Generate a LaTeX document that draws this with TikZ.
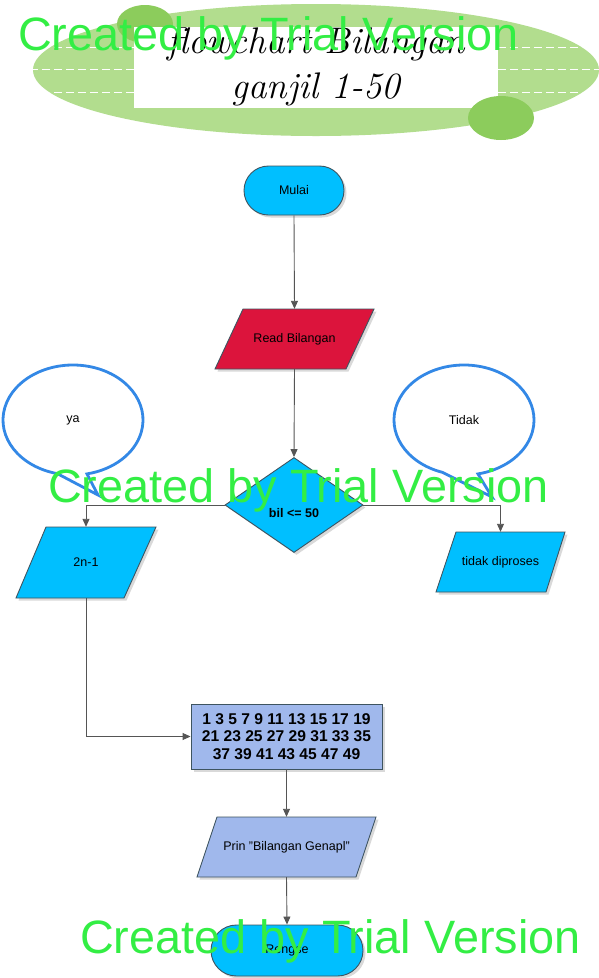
\documentclass[tikz,border=0pt]{standalone}
\usepackage{fontspec}
\setmainfont{Liberation Sans}
\usetikzlibrary{arrows.meta,shapes.geometric,shadows,calc}
\definecolor{sky}{RGB}{0,191,255}
\definecolor{crim}{RGB}{220,20,60}
\definecolor{lblue}{RGB}{160,184,236}
\definecolor{bordergray}{RGB}{62,84,96}
\definecolor{linegray}{RGB}{85,85,85}
\definecolor{bubblue}{RGB}{51,136,230}
\definecolor{lgreen}{RGB}{178,221,142}
\definecolor{dgreen}{RGB}{140,204,92}
\definecolor{wmgreen}{RGB}{51,238,68}
\begin{document}
\begin{tikzpicture}[x=1pt,y=-1pt,
  conn/.style={draw=linegray, line width=0.9pt},
  arr/.style={conn, -{Triangle[length=8pt,width=7pt]}},
  lbl/.style={font=\fontsize{12.5}{15}\selectfont, text=black, inner sep=0pt},
  shapeline/.style={draw=bordergray, line width=0.9pt},
  shadowed/.style={drop shadow={shadow xshift=2.5pt, shadow yshift=-2.5pt, fill=black, opacity=0.15}},
  stadium/.style={lbl, shapeline, shadowed, fill=sky, rectangle},
  bubble/.style={draw=bubblue, line width=2.8pt, fill=white, line join=miter},
  wm/.style={font=\fontsize{46.8}{50}\selectfont, text=wmgreen, anchor=base west, inner sep=0pt},
  titletext/.style={font=\fontfamily{lmr}\itshape\fontsize{37}{40}\selectfont, text=black, inner sep=0pt, anchor=base}
]
\useasboundingbox (0,0) rectangle (599,978);
\fill[white] (0,0) rectangle (599,978);

% ---- title banner ----
\fill[lgreen] (316,70) ellipse [x radius=283, y radius=66];
\begin{scope}
  \clip (316,70) ellipse [x radius=283, y radius=66];
  \foreach \yy in {47,69,92}
    \draw[white, line width=0.9pt, dash pattern=on 8pt off 4pt] (30,\yy) -- (600,\yy);
\end{scope}
\fill[dgreen] (145,24) ellipse [x radius=28, y radius=19];
\fill[white] (134,27) rectangle (498,108);
\fill[dgreen] (501,118) ellipse [x radius=33, y radius=22];
\node[titletext] (t1) at (316,53) {flowchart Bilangan};
\node[titletext] (t2) at (316,98) {ganjil 1-50};

% ---- speech bubbles ----
\draw[bubble] (73,420) ++(103:70 and 55) arc[start angle=103, end angle=438.5, x radius=70, y radius=55] -- (98,495) -- cycle;
\node[lbl] (ya) at (73,420) {ya};
\draw[bubble] (464,420) ++(108:70 and 55) arc[start angle=108, end angle=438.5, x radius=70, y radius=55] -- (492,497) -- cycle;
\node[lbl] (tidak) at (464,420) {Tidak};

% ---- flow shapes ----
\node[stadium, minimum width=100pt, minimum height=49pt, rounded corners=24.5pt] (mulai) at (294,190.5) {Mulai};

\draw[shapeline, shadowed, fill=crim] (243,309) -- (374,309) -- (346,369) -- (215,369) -- cycle;
\node[lbl, minimum width=159pt, minimum height=60pt] (read) at (294.5,339) {Read Bilangan};

\node[diamond, shapeline, shadowed, fill=sky, minimum width=138pt, minimum height=95pt, inner sep=0pt,
      text height=25pt, text depth=0pt,
      font=\bfseries\fontsize{12.5}{15}\selectfont] (dec) at (294,505) {bil <= 50};

\draw[shapeline, shadowed, fill=sky] (46,527) -- (156,527) -- (124,598) -- (16,598) -- cycle;
\node[lbl, minimum width=140pt, minimum height=71pt] (odd) at (86,562.5) {2n-1};

\draw[shapeline, shadowed, fill=sky] (456,532) -- (565,532) -- (546,592) -- (436,592) -- cycle;
\node[lbl, minimum width=129pt, minimum height=60pt] (skip) at (500.5,562) {tidak diproses};

\node[rectangle, shapeline, shadowed, fill=lblue, minimum width=191pt, minimum height=65pt, inner sep=0pt,
      align=center, font=\bfseries\fontsize{15.6}{17.5}\selectfont] (list) at (286.5,736.5)
      {1 3 5 7 9 11 13 15 17 19\\21 23 25 27 29 31 33 35\\37 39 41 43 45 47 49};

\draw[shapeline, shadowed, fill=lblue] (217,817) -- (376,817) -- (356,877) -- (197,877) -- cycle;
\node[lbl, minimum width=179pt, minimum height=60pt] (prin) at (286.5,847) {Prin "Bilangan Genapl"};

\node[stadium, minimum width=152pt, minimum height=51pt, rounded corners=25.5pt] (end) at (287,950.5) {Rengse};

% ---- connectors ----
\draw[arr] (mulai.south) -- (read.north);
\draw[arr] (read.south) -- (dec.north);
\draw[arr] (dec.west) -| (odd.north);
\draw[arr] (dec.east) -| (skip.north);
\draw[arr] (odd.south) |- (list.west);
\draw[arr] (list.south) -- (prin.north);
\draw[arr] (prin.south) -- (end.north);

% ---- watermark ----
\node[wm] (wm1) at (18,50) {Created by Trial Version};
\node[wm] (wm2) at (48,502) {Created by Trial Version};
\node[wm] (wm3) at (80,953) {Created by Trial Version};
\end{tikzpicture}
\end{document}
